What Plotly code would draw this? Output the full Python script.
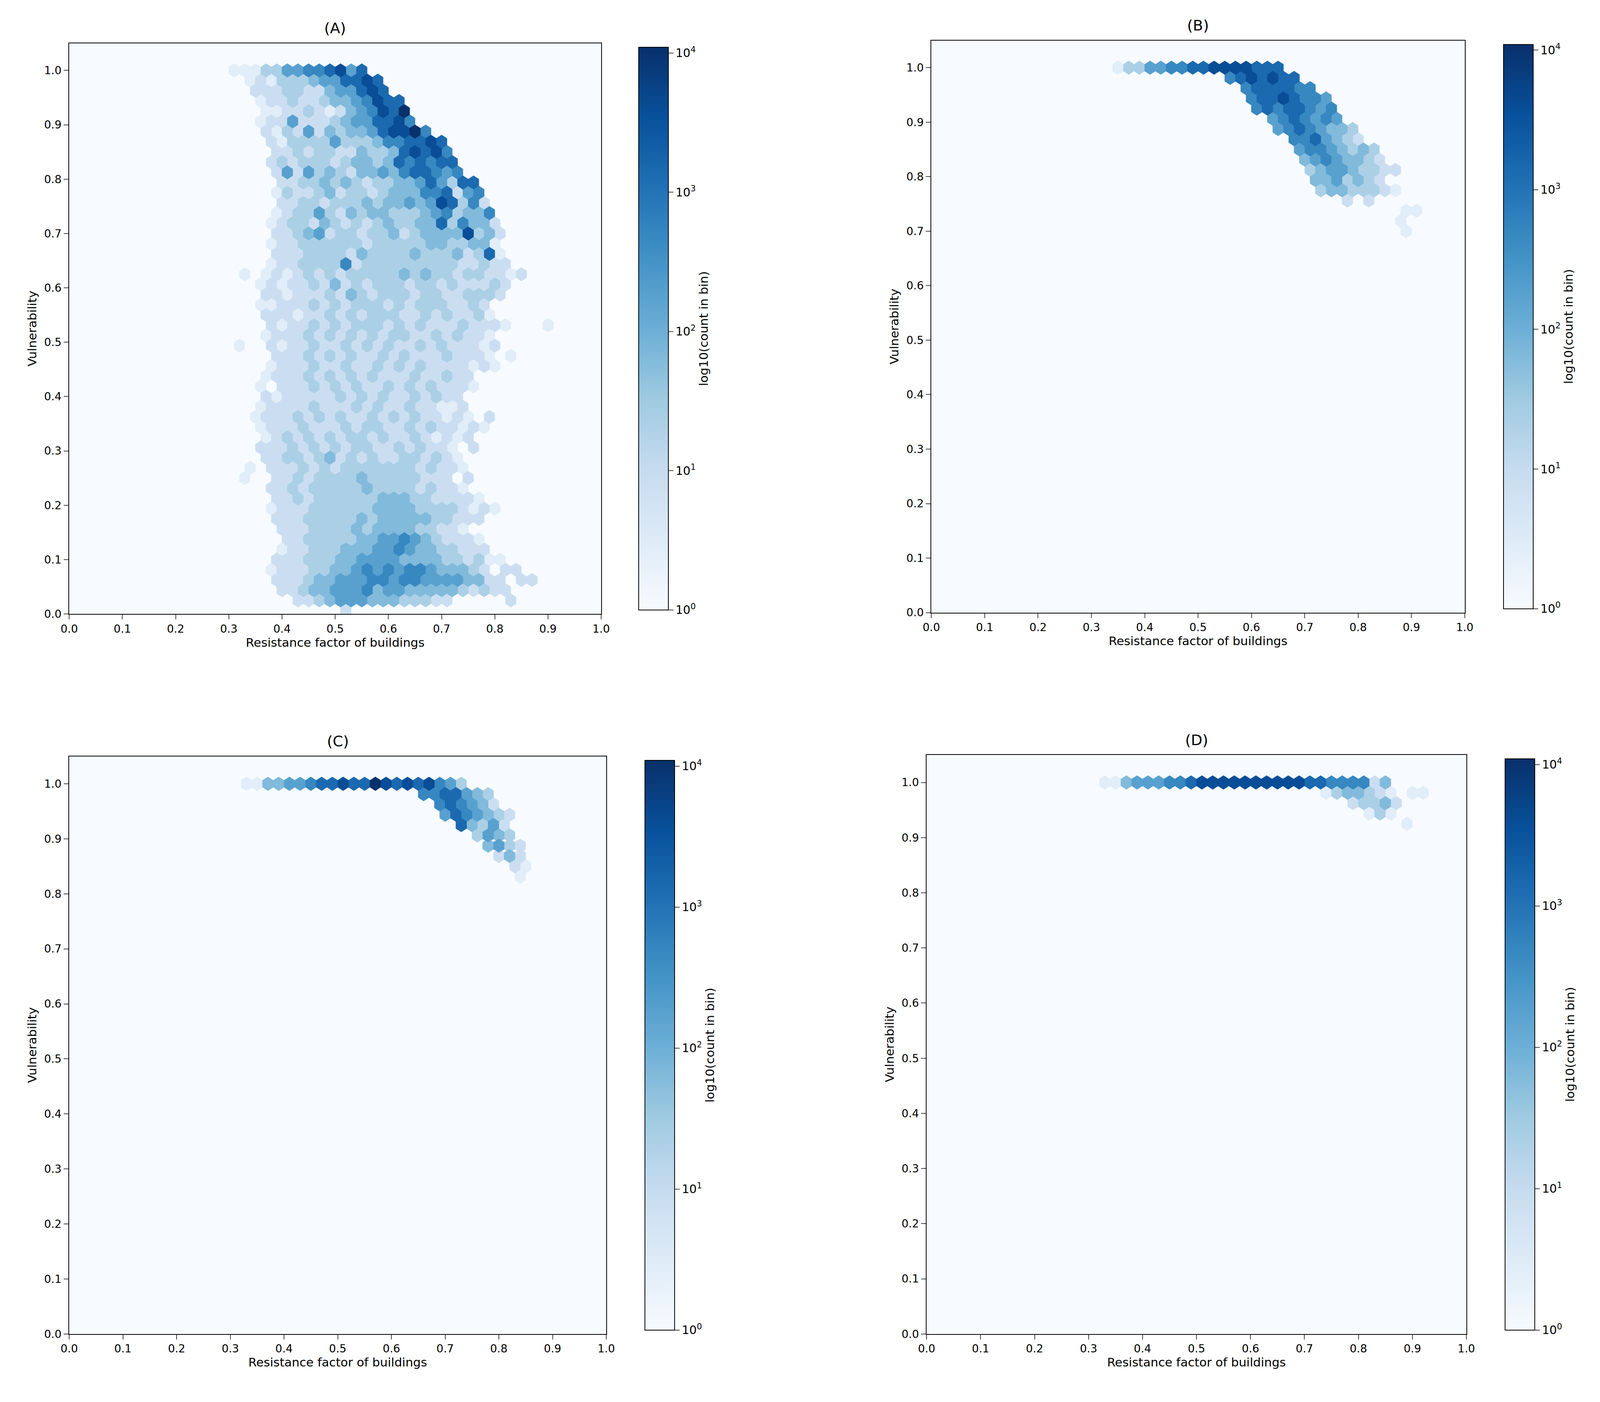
import plotly.graph_objects as go
from plotly.colors import sample_colorscale
import math

# hex rows: (row index k, start x, level string); level d -> log10(count) = d*0.45; '.' = empty
ROW_DY = 0.01875
LEVEL_STEP = 0.45
VMAX_LOG = math.log10(11000)

panel_A = [
 (0,0.31,"1113355667857"),(1,0.34,"1213334557787"),(2,0.35,"2223322455787"),
 (3,0.36,"12232234456877"),(4,0.37,"11223212456879"),(5,0.36,"122522234557786"),
 (6,0.37,"2132524344578896"),(7,0.38,"21333353334667787"),(8,0.39,"22323322433478786"),
 (9,0.38,"232333234434767677"),(10,0.39,"252534324454677656"),(11,0.40,"2233434323344575377"),
 (12,0.39,"13223423323444667256"),(13,0.40,"22332333434454587362"),(14,0.39,"123353243443334563446"),
 (15,0.38,"1233243232343344736442"),(16,0.39,"2234523323342344448342"),(17,0.38,"1223333332333334433441"),
 (18,0.39,"2223333243333433342371"),(19,0.38,"12233336233333333322322"),(20,0.33,"1.1212323233333434332332212"),
 (21,0.36,"121223242323332332322232"),(22,0.37,"22122232432333233223332"),(23,0.36,"1122232323332323332232"),
 (24,0.37,"2221223232333223232231"),(25,0.38,"21223232333232322232221...1"),(26,0.37,"1222323232323322323221"),
 (27,0.32,"1..2122322323232232322212"),(28,0.39,"222323232232322232221.1"),(29,0.38,"1222322322323232222121"),
 (30,0.37,"12223232323222322322"),(31,0.36,"1.2223232322323232221"),(32,0.37,"2122222323232232322"),
 (33,0.36,"12222322232322322112"),(34,0.35,"122232323223232322121.2"),(35,0.36,"1222322232332232322121"),
 (36,0.37,"12323232332322321212"),(37,0.36,"2223232323322323221.2"),(38,0.37,"2233234232322332321"),
 (39,0.34,"1.2223232333333323221"),(40,0.33,"1..22323333433333222.2"),(41,0.38,"2232333334333323221"),
 (42,0.39,"22323333334443322221"),(43,0.38,"1222333333444433332121"),(44,0.39,"22233333434444433222"),
 (45,0.40,"222333343444433221"),(46,0.41,"2233333445565432221"),(47,0.40,"12233344455654433222"),
 (48,0.39,"2223334455554444332311"),(49,0.38,"122233445656566544432.22"),(50,0.39,"2223445556656655554422.22"),
 (51,0.40,"2234455564554444432322"),(52,0.43,"223455544433322.....2"),(53,0.52,"2"),
]
panel_B = [
 (0,0.35,"1335566778888777"),(1,0.56,"6787877"),(2,0.59,"6777766"),(3,0.60,"67787665"),
 (4,0.61,"67677656"),(5,0.64,"5676565"),(6,0.65,"56765443"),(7,0.68,"6675432"),
 (8,0.69,"56654343"),(9,0.70,"45654432"),(10,0.71,"345543322"),(11,0.72,"4453432"),
 (12,0.73,"34433321"),(13,0.78,"2.2"),(14,0.89,"11"),(15,0.88,"1"),(16,0.89,"1"),
]
panel_C = [
 (0,0.33,"114455677877987878653"),(1,0.66,"6677543"),(2,0.69,"676542"),(3,0.70,"5765432"),
 (4,0.73,"74352"),(5,0.76,"3543"),(6,0.78,"4532"),(7,0.80,"242"),(8,0.83,"21"),(9,0.84,"1"),
]
panel_D = [
 (0,0.33,"114555667888888888877666624"),(1,0.74,"1344321.11"),(2,0.79,"23342"),
 (3,0.82,"131"),(4,0.89,"1"),
]

titles = ["(A)", "(B)", "(C)", "(D)"]
panels = [panel_A, panel_B, panel_C, panel_D]
doms = [((0.0383,0.3744),(0.560,0.969),0.3955),
        ((0.583,0.920),(0.561,0.971),0.942),
        ((0.0383,0.3776),(0.044,0.458),0.3995),
        ((0.580,0.921),(0.044,0.459),0.943)]

fig = go.Figure()
HW, R = 0.01, 0.0125

for p, rows in enumerate(panels):
    xa = "x" if p == 0 else f"x{p+1}"
    ya = "y" if p == 0 else f"y{p+1}"
    levels = {}
    for k, x0, s in rows:
        cy = 1.0 - k * ROW_DY
        for i, ch in enumerate(s):
            if ch == ".":
                continue
            cx = x0 + 0.02 * i
            levels.setdefault(int(ch), []).append((cx, cy))
    for d, pts in sorted(levels.items()):
        t = min(d * LEVEL_STEP / VMAX_LOG, 1.0)
        col = sample_colorscale("Blues", [t])[0]
        xs, ys = [], []
        for cx, cy in pts:
            xs += [cx+HW, cx+HW, cx, cx-HW, cx-HW, cx, cx+HW, None]
            ys += [cy-R/2, cy+R/2, cy+R, cy+R/2, cy-R/2, cy-R, cy-R/2, None]
        fig.add_trace(go.Scatter(x=xs, y=ys, xaxis=xa, yaxis=ya, mode="lines",
                                 fill="toself", fillcolor=col,
                                 line=dict(color=col, width=1), hoverinfo="skip",
                                 showlegend=False))
    (dx, dy, cbx) = doms[p]
    fig.add_trace(go.Scatter(x=[-1], y=[-1], xaxis=xa, yaxis=ya, mode="markers",
        showlegend=False, hoverinfo="skip",
        marker=dict(color=[0], colorscale="Blues", cmin=0, cmax=VMAX_LOG, showscale=True,
            colorbar=dict(x=cbx, xanchor="left", y=(dy[0]+dy[1])/2, yanchor="middle",
                len=dy[1]-dy[0], lenmode="fraction", thickness=76, outlinewidth=2,
                outlinecolor="black", ticks="outside", ticklen=12, tickwidth=2,
                tickvals=[0,1,2,3,4], ticktext=[f"10<sup>{i}</sup>" for i in range(5)],
                tickfont=dict(size=30, family="DejaVu Sans", color="black"),
                title=dict(text="log10(count in bin)", side="right",
                           font=dict(size=31, family="DejaVu Sans", color="black"))))))
    axcommon = dict(showgrid=False, zeroline=False, showline=True, linecolor="black",
                    linewidth=2, mirror=True, ticks="outside", ticklen=12, tickwidth=2,
                    tickfont=dict(size=28, family="DejaVu Sans", color="black"))
    fig.layout[("xaxis" if p == 0 else f"xaxis{p+1}")] = dict(
        domain=dx, anchor=ya, range=[0, 1], dtick=0.1, tickformat=".1f",
        title=dict(text="Resistance factor of buildings", standoff=8,
                   font=dict(size=31, family="DejaVu Sans", color="black")), **axcommon)
    fig.layout[("yaxis" if p == 0 else f"yaxis{p+1}")] = dict(
        domain=dy, anchor=xa, range=[0, 1.05], dtick=0.1, tickformat=".1f",
        title=dict(text="Vulnerability", standoff=10,
                   font=dict(size=31, family="DejaVu Sans", color="black")), **axcommon)
    fig.add_annotation(text=titles[p], xref="paper", yref="paper",
                       x=(dx[0]+dx[1])/2, y=dy[1]+0.004, xanchor="center", yanchor="bottom",
                       showarrow=False, font=dict(size=38, family="DejaVu Sans", color="black"))

fig.update_layout(autosize=True, paper_bgcolor="white", plot_bgcolor="#f7fbff",
                  margin=dict(l=0, r=0, t=0, b=0))
fig.write_html("out.html", default_width="100vw", default_height="100vh",
               config={"displayModeBar": False},
               post_script="document.body.style.margin='0';document.body.style.overflow='hidden';")
